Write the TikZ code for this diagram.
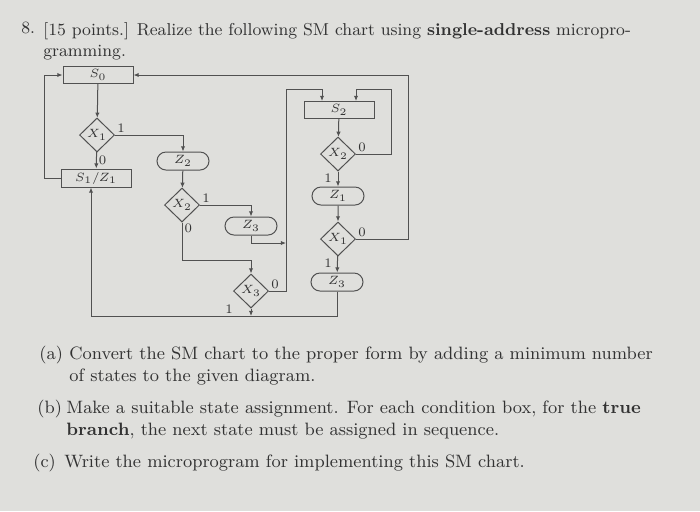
\documentclass[tikz,border=0pt]{standalone}
\usepackage{tikz}
\usetikzlibrary{shapes.geometric,shapes.misc,arrows.meta}
\definecolor{paper}{RGB}{223,223,220}
\definecolor{ink}{RGB}{50,50,50}

\begin{document}
\begin{tikzpicture}[x=0.5pt,y=-0.5pt,
    every node/.style={text=ink},
    chart/.style={draw=ink!85,line width=0.5pt},
    statebox/.style={chart,rectangle,minimum width=35pt,minimum height=8.5pt,inner sep=0pt,font=\chartfontsize},
    decbox/.style={chart,diamond,minimum width=17.5pt,minimum height=17pt,inner sep=0pt,font=\chartfontsize},
    outbox/.style={chart,rounded rectangle,minimum width=26pt,minimum height=9pt,inner sep=0pt,font=\chartfontsize},
    flow/.style={chart,-{Latex[length=2.6pt,width=2.2pt]}},
    branch/.style={font=\chartfontsize,inner sep=1pt}]
    \providecommand{\chartfontsize}{\fontsize{6.5}{7}\selectfont}
    \providecommand{\headfontsize}{\fontsize{8.6}{10.5}\selectfont}
    \providecommand{\partfontsize}{\fontsize{8.95}{11.3}\selectfont}
    \fill[paper] (0,0) rectangle (700,511);
    \useasboundingbox (0,0) rectangle (700,511);
    \node[anchor=north west,inner sep=0,font=\headfontsize] (qnum) at (21,22) {8.};
    \node[anchor=north west,inner sep=0,font=\headfontsize,align=left] (qtext) at (43,22)
    {[15 points.] Realize the following SM chart using \textbf{single-address} micropro-\\gramming.};
    % left part of the chart
    \node[statebox] (s0) at (98,75) {$S_0$};
    \node[decbox] (xa) at (97,135) {$X_1$};
    \node[outbox] (zb) at (183,161) {$Z_2$};
    \node[statebox,minimum height=9pt] (s1) at (96,178) {$S_1/Z_1$};
    \node[decbox] (xb) at (182,205) {$X_2$};
    \node[outbox] (zc) at (251,226) {$Z_3$};
    \node[decbox] (xc) at (251,291) {$X_3$};
    % right part of the chart
    \node[statebox] (s2) at (339,110) {$S_2$};
    \node[decbox] (xd) at (338,154) {$X_2$};
    \node[outbox] (za) at (338,196) {$Z_1$};
    \node[decbox] (xe) at (338,239) {$X_1$};
    \node[outbox] (zd) at (337,282) {$Z_3$};
    \coordinate (lft) at (44,178);
    \coordinate (m1) at (182,260);
    \coordinate (jn) at (286,243);
    \coordinate (lp) at (286,89);
    \coordinate (rp) at (391,89);
    \coordinate (top) at (408,75);
    \coordinate (bot) at (91,316);
    \draw[flow] (s0) -- (xa);
    \draw[flow] (xa.east) -| (zb.north);
    \draw[flow] (xa) -- node[branch,right]{0} (s1);
    \draw[flow] (s1.west) -- (lft) |- (s0.west);
    \draw[flow] (zb) -- (xb);
    \draw[flow] (xb.east) -| (zc.north);
    \draw[flow] (xb.south) -- node[branch,right,pos=0.15]{0} (m1) -| (xc.north);
    \draw[flow] (zc.south) |- (jn);
    \draw[flow] (xc.east) -| (lp) -| ([xshift=-8.5pt]s2.north);
    \draw[flow] (s2) -- (xd);
    \draw[flow] (xd.east) -| (rp) -| ([xshift=8.5pt]s2.north);
    \draw[flow] (xd) -- (za);
    \draw[flow] (za) -- (xe);
    \draw[flow] (xe.east) -| (top) -- (s0.east);
    \draw[flow] (xe) -- (zd);
    \draw[flow] (zd.south) |- (bot) -- (bot |- s1.south);
    \draw[flow] (xc.south) -- (xc.south |- bot);
    \node[branch,above right] at (xa.east) {1};
    \node[branch,above right] at (xb.east) {1};
    \node[branch,above right] at (xc.east) {0};
    \node[branch] at (229,309) {1};
    \node[branch,above right] at (xd.east) {0};
    \node[branch] at (328,178) {1};
    \node[branch,above right] at (xe.east) {0};
    \node[branch] at (328,263) {1};
    % questions
    \node[anchor=north west,inner sep=0,font=\partfontsize] (pa) at (39,346) {(a)};
    \node[anchor=north west,inner sep=0,font=\partfontsize,align=left] (ta) at (69,346)
    {Convert the SM chart to the proper form by adding a minimum number\\of states to the given diagram.};
    \node[anchor=north west,inner sep=0,font=\partfontsize] (pb) at (37,400) {(b)};
    \node[anchor=north west,inner sep=0,font=\partfontsize,align=left] (tb) at (66,400)
    {Make a suitable state assignment. For each condition box, for the \textbf{true}\\\textbf{branch}, the next state must be assigned in sequence.};
    \node[anchor=north west,inner sep=0,font=\partfontsize] (pc) at (33,454) {(c)};
    \node[anchor=north west,inner sep=0,font=\partfontsize] (tc) at (64,454)
    {Write the microprogram for implementing this SM chart.};
\end{tikzpicture}
\end{document}
